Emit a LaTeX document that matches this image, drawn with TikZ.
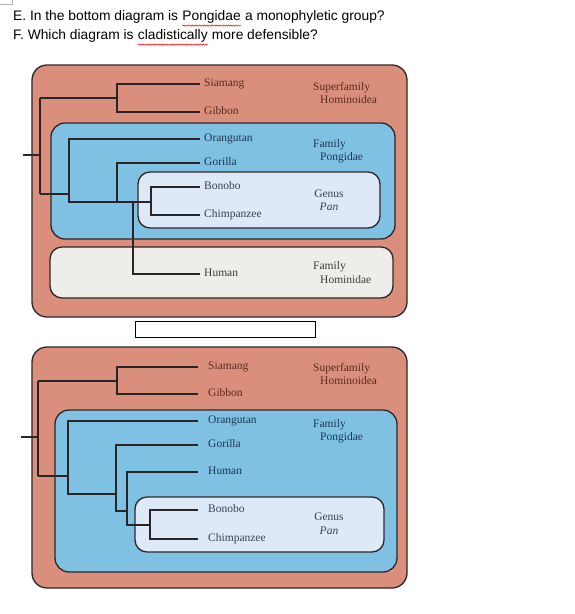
\documentclass[tikz,border=0pt]{standalone}
\usepackage{fontspec}
\setmainfont{Liberation Serif}
\newfontfamily\qfont{Liberation Sans}
\usetikzlibrary{decorations.pathmorphing}
\definecolor{salmon}{HTML}{DA8F7C}
\definecolor{pblue}{HTML}{7FC1E3}
\definecolor{panfill}{HTML}{DEE9F7}
\definecolor{homfill}{HTML}{EEEDE9}
\definecolor{boxline}{HTML}{2E2626}
\definecolor{treeline}{HTML}{2A2426}
\definecolor{tsal}{HTML}{5C2A1E}
\definecolor{tblue}{HTML}{1E3550}
\definecolor{tpan}{HTML}{3A3F55}
\definecolor{thom}{HTML}{3C3C3C}
\begin{document}
\begin{tikzpicture}[x=1pt,y=-1pt,
  outerbox/.style={draw=boxline, line width=1.3pt, fill=salmon, rounded corners=15pt},
  famblue/.style={draw=boxline, line width=1.3pt, fill=pblue, rounded corners=14pt},
  genbox/.style={draw=boxline, line width=1.3pt, fill=panfill, rounded corners=12pt},
  hombox/.style={draw=boxline, line width=1.3pt, fill=homfill, rounded corners=12pt},
  tree/.style={draw=treeline, line width=1.1pt},
  lbl/.style={font=\fontsize{11.5}{13}\selectfont, inner ysep=0pt, text height=8pt, text depth=3pt},
  leafa/.style={lbl, anchor=west, inner xsep=4pt},
  leafb/.style={lbl, anchor=west, inner xsep=10pt},
  rlab/.style={lbl, anchor=west, inner xsep=0pt},
  clab/.style={lbl, inner xsep=0pt},
  qtext/.style={font=\qfont\fontsize{13.8}{16}\selectfont, inner sep=0pt, anchor=base west},
  squig/.style={draw=red, line width=0.5pt, decorate, decoration={snake, amplitude=0.6pt, segment length=2.4pt}},
  blank/.style={draw=black, line width=0.6pt, fill=white}
]
\useasboundingbox (0,0) rectangle (575,614);
\fill[white] (0,0) rectangle (575,614);
% small corner mark
\draw[gray!60, line width=0.6pt] (0,4) -- (12,4) -- (12,0);

% question text
\node[qtext] (e1) at (13,20) {E. In the bottom diagram is};
\node[qtext] (e2) at ([xshift=3.9pt]e1.base east) {Pongidae};
\node[qtext] (e3) at ([xshift=3.9pt]e2.base east) {a monophyletic group?};
\node[qtext] (f1) at (13,39) {F. Which diagram is};
\node[qtext] (f2) at ([xshift=3.9pt]f1.base east) {cladistically};
\node[qtext] (f3) at ([xshift=3.9pt]f2.base east) {more defensible?};
\draw[squig] ([yshift=-2.5pt]e2.south west) -- ([yshift=-2.5pt]e2.south east);
\draw[squig] ([yshift=-2.5pt]f2.south west) -- ([yshift=-2.5pt]f2.south east);

% ================= TOP DIAGRAM =================
\draw[outerbox] (32,65) rectangle (407,317);
\draw[famblue] (51,123) rectangle (395,239);
\draw[genbox] (138,172) rectangle (380,228);
\draw[hombox] (50,247) rectangle (393,298);

\node[leafa, text=tsal] (siamangA) at (200,84) {Siamang};
\node[leafa, text=tsal] (gibbonA) at (200,112) {Gibbon};
\node[leafa, text=tblue] (orangA) at (200,139) {Orangutan};
\node[leafa, text=tblue] (gorillaA) at (200,163) {Gorilla};
\node[leafa, text=tpan] (bonoboA) at (200,187) {Bonobo};
\node[leafa, text=tpan] (chimpA) at (200,215) {Chimpanzee};
\node[leafa, text=thom] (humanA) at (200,274) {Human};

\node[rlab, text=tsal] (sfA) at (313,88) {Superfamily};
\node[rlab, text=tsal] (hoA) at (320,101) {Hominoidea};
\node[rlab, text=tblue] (faA) at (313,145) {Family};
\node[rlab, text=tblue] (poA) at (320,158) {Pongidae};
\node[clab, text=tpan] (geA) at (329,195) {Genus};
\node[clab, text=tpan] (paA) at (329,208) {\itshape Pan};
\node[rlab, text=thom] (fhA) at (313,267) {Family};
\node[rlab, text=thom] (hmA) at (320,281) {Hominidae};

\coordinate (stubA) at (23,155);
\coordinate (rootA) at (40,155);
\coordinate (topA) at (40,98);
\coordinate (botA) at (40,194);
\coordinate (sgA) at (117,98);
\coordinate (grA) at (69,194);
\coordinate (afA) at (69,202);
\coordinate (gjA) at (117,202);
\coordinate (hjA) at (133,202);
\coordinate (pjA) at (151,202);

\draw[tree] (stubA) -- (rootA);
\draw[tree] (topA) -- (botA);
\draw[tree] (topA) -- (sgA);
\draw[tree] (siamangA.west) -| (sgA) |- (gibbonA.west);
\draw[tree] (botA) -- (grA);
\draw[tree] (orangA.west) -| (afA) -- (pjA);
\draw[tree] (gorillaA.west) -| (gjA);
\draw[tree] (humanA.west) -| (hjA);
\draw[tree] (bonoboA.west) -| (pjA) |- (chimpA.west);

% blank answer box
\draw[blank] (135,321) rectangle (315,337);

% ================= BOTTOM DIAGRAM =================
\draw[outerbox] (32,347) rectangle (407,588);
\draw[famblue] (55,410) rectangle (397,572);
\draw[genbox] (135,497) rectangle (384,552);

\node[leafb, text=tsal] (siamangB) at (198,367) {Siamang};
\node[leafb, text=tsal] (gibbonB) at (198,394) {Gibbon};
\node[leafb, text=tblue] (orangB) at (198,421) {Orangutan};
\node[leafb, text=tblue] (gorillaB) at (198,445) {Gorilla};
\node[leafb, text=tblue] (humanB) at (198,472) {Human};
\node[leafb, text=tpan] (bonoboB) at (198,510) {Bonobo};
\node[leafb, text=tpan] (chimpB) at (198,539) {Chimpanzee};

\node[rlab, text=tsal] (sfB) at (313,369) {Superfamily};
\node[rlab, text=tsal] (hoB) at (320,382) {Hominoidea};
\node[rlab, text=tblue] (faB) at (313,425) {Family};
\node[rlab, text=tblue] (poB) at (320,438) {Pongidae};
\node[clab, text=tpan] (geB) at (329,518) {Genus};
\node[clab, text=tpan] (paB) at (329,532) {\itshape Pan};

\coordinate (stubB) at (21,437);
\coordinate (rootB) at (38,437);
\coordinate (topB) at (38,381);
\coordinate (botB) at (38,476);
\coordinate (sgB) at (117,381);
\coordinate (grB) at (68,476);
\coordinate (j1B) at (68,494);
\coordinate (j2B) at (116,494);
\coordinate (j3B) at (116,511);
\coordinate (j4B) at (127,511);
\coordinate (j5B) at (127,525);
\coordinate (j6B) at (150,525);

\draw[tree] (stubB) -- (rootB);
\draw[tree] (topB) -- (botB);
\draw[tree] (topB) -- (sgB);
\draw[tree] (siamangB.west) -| (sgB) |- (gibbonB.west);
\draw[tree] (botB) -- (grB);
\draw[tree] (orangB.west) -| (j1B) -- (j2B);
\draw[tree] (gorillaB.west) -| (j3B) -- (j4B);
\draw[tree] (humanB.west) -| (j5B) -- (j6B);
\draw[tree] (bonoboB.west) -| (j6B) |- (chimpB.west);
\end{tikzpicture}
\end{document}
